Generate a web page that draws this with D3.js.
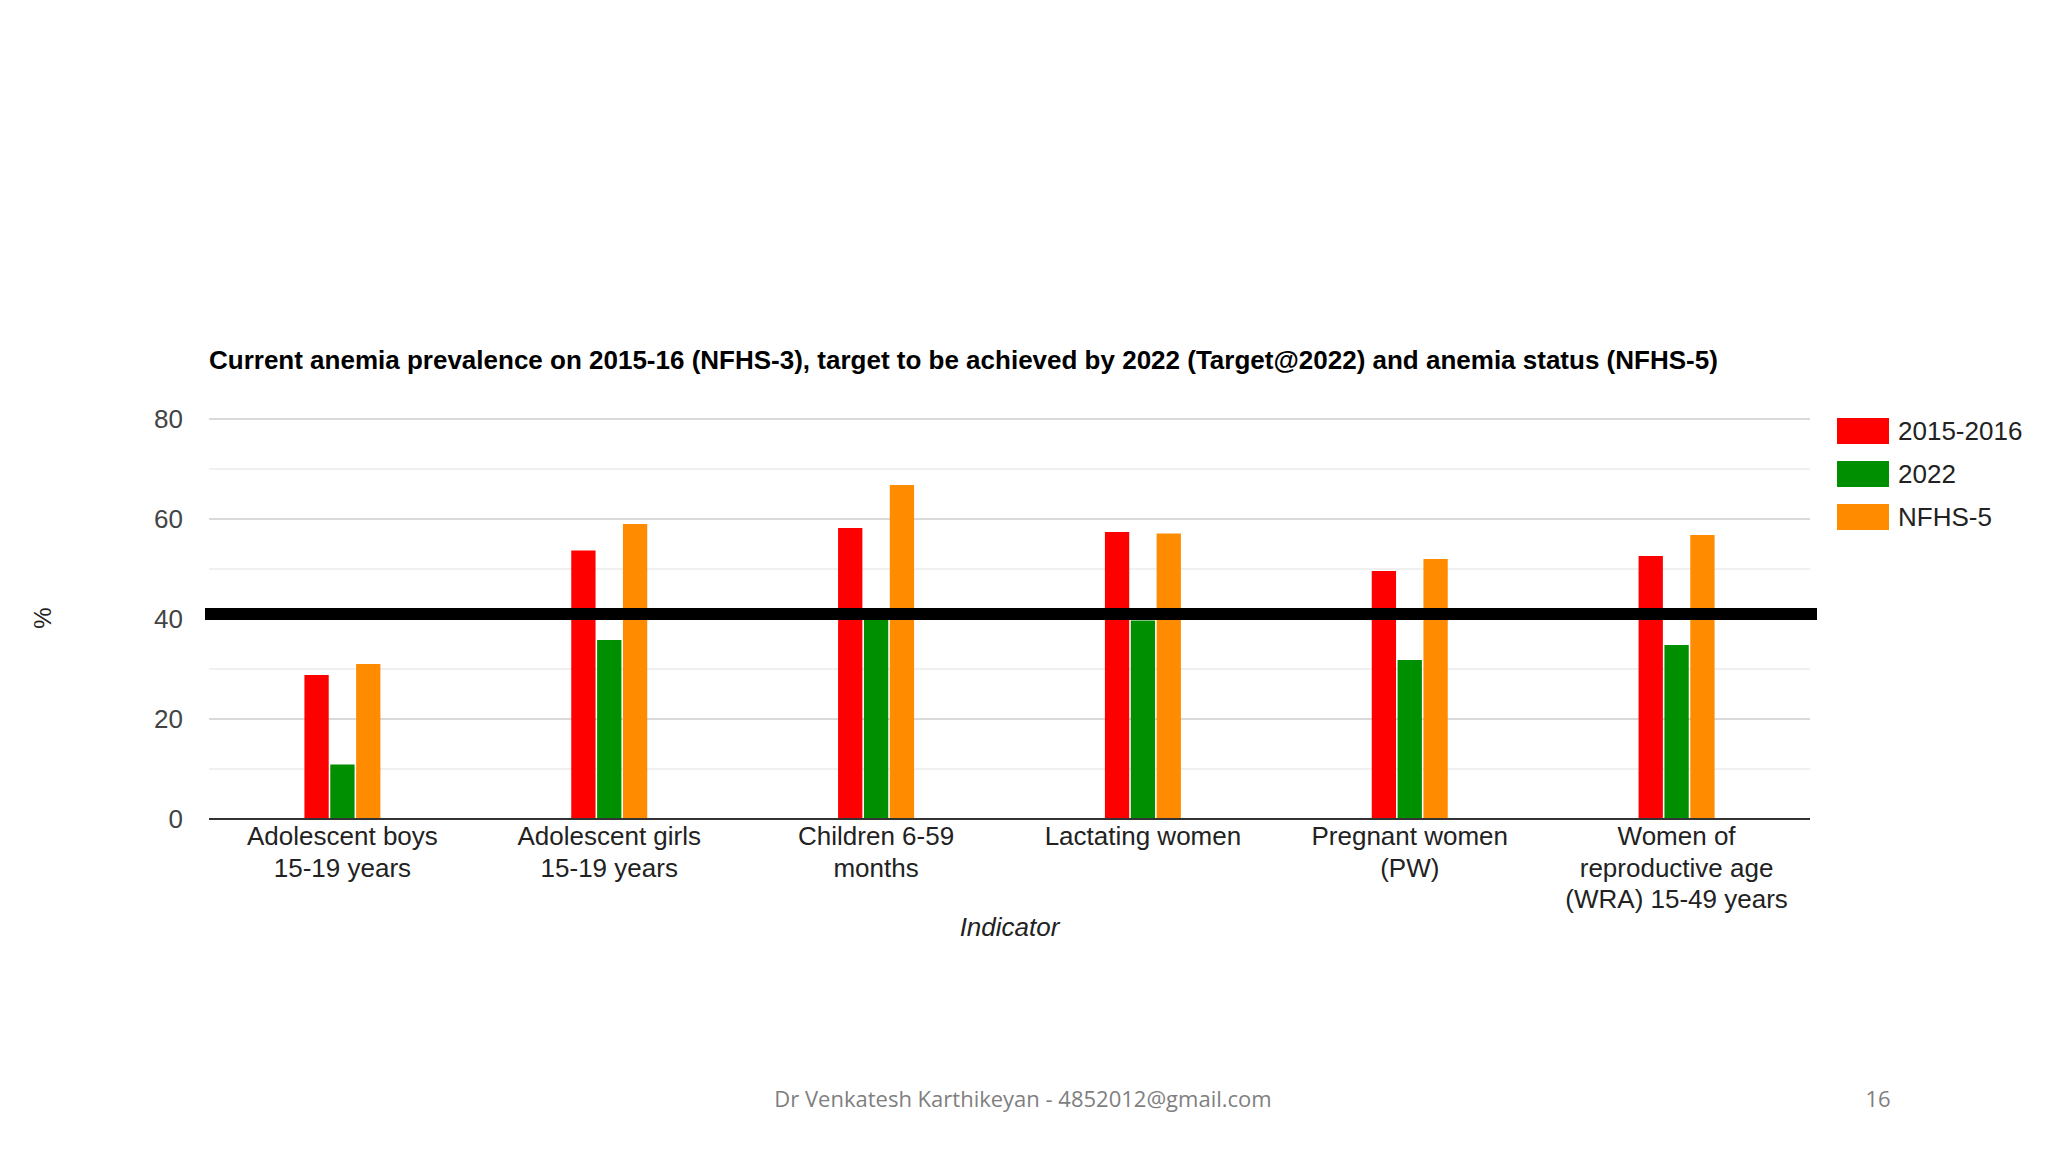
<!DOCTYPE html>
<html>
<head>
<meta charset="utf-8">
<script src="https://cdn.jsdelivr.net/npm/d3@7"></script>
<style>
  body { margin: 0; background: #fff; }
  svg { display: block; }
</style>
</head>
<body>
<svg id="chart"></svg>
<script>
// chart data
var categories = [
  ["Adolescent boys", "15-19 years"],
  ["Adolescent girls", "15-19 years"],
  ["Children 6-59", "months"],
  ["Lactating women"],
  ["Pregnant women", "(PW)"],
  ["Women of", "reproductive age", "(WRA) 15-49 years"]
];
var seriesNames = ["2015-2016", "2022", "NFHS-5"];
var values2016 = [28.8, 53.7, 58.2, 57.4, 49.6, 52.6];
var values2022 = [10.9, 35.8, 40.0, 39.7, 31.8, 34.8];
var valuesNfhs5 = [31.0, 59.0, 66.8, 57.1, 52.0, 56.8];
var yTicks = [0, 20, 40, 60, 80];
var minorTicks = [10, 30, 50, 70];
var targetLine = 41;

var colors = ["#ff0000", "#008f00", "#ff8c00"];

var width = 2048, height = 1152;
var plotLeft = 209, plotRight = 1810, plotTop = 419, plotBottom = 819;

var svg = d3.select("#chart")
  .attr("width", width)
  .attr("height", height)
  .style("font-family", "'Liberation Sans', Arial, sans-serif");

var x0 = d3.scaleBand()
  .domain(d3.range(categories.length))
  .range([plotLeft, plotRight]);

var bw = x0.bandwidth();
var x1 = d3.scaleBand()
  .domain(d3.range(seriesNames.length))
  .range([bw/2 - 38, bw/2 + 38])
  .paddingInner(0.06);

var y = d3.scaleLinear()
  .domain([0, 80])
  .range([plotBottom, plotTop]);

// title
svg.append("text")
  .attr("x", plotLeft)
  .attr("y", 369)
  .attr("font-size", 26)
  .attr("font-weight", "bold")
  .attr("fill", "#000")
  .text("Current anemia prevalence on 2015-16 (NFHS-3), target to be achieved by 2022 (Target@2022) and anemia status (NFHS-5)");

// gridlines
svg.append("g").selectAll("line")
  .data(minorTicks)
  .enter().append("line")
    .attr("x1", plotLeft).attr("x2", plotRight)
    .attr("y1", d => y(d)).attr("y2", d => y(d))
    .attr("stroke", "#ebebeb").attr("stroke-width", 1.5);

svg.append("g").selectAll("line")
  .data(yTicks.slice(1))
  .enter().append("line")
    .attr("x1", plotLeft).attr("x2", plotRight)
    .attr("y1", d => y(d)).attr("y2", d => y(d))
    .attr("stroke", "#cccccc").attr("stroke-width", 1.5);

// y tick labels
svg.append("g").selectAll("text")
  .data(yTicks)
  .enter().append("text")
    .attr("x", 183)
    .attr("y", d => y(d) + 9)
    .attr("text-anchor", "end")
    .attr("font-size", 26)
    .attr("fill", "#444")
    .text(d => d);

// bars
var allSeries = [values2016, values2022, valuesNfhs5];
var groups = svg.append("g").selectAll("g")
  .data(categories)
  .enter().append("g")
    .attr("transform", (d, i) => "translate(" + x0(i) + ",0)");

groups.selectAll("rect")
  .data((d, i) => allSeries.map((s, j) => ({ s: j, v: s[i] })))
  .enter().append("rect")
    .attr("x", d => x1(d.s))
    .attr("width", x1.bandwidth())
    .attr("y", d => y(d.v))
    .attr("height", d => y(0) - y(d.v))
    .attr("fill", d => colors[d.s]);

// baseline
svg.append("line")
  .attr("x1", plotLeft).attr("x2", plotRight)
  .attr("y1", y(0)).attr("y2", y(0))
  .attr("stroke", "#333").attr("stroke-width", 2);

// target line
svg.append("line")
  .attr("x1", plotLeft - 4).attr("x2", plotRight + 7)
  .attr("y1", y(targetLine)).attr("y2", y(targetLine))
  .attr("stroke", "#000").attr("stroke-width", 12);

// x labels
groups.each(function(d, i) {
  var t = d3.select(this).append("text")
    .attr("text-anchor", "middle")
    .attr("font-size", 26)
    .attr("fill", "#222");
  d.forEach(function(line, k) {
    t.append("tspan")
      .attr("x", bw/2)
      .attr("y", 845 + k*31.5)
      .text(line);
  });
});

// axis titles
svg.append("text")
  .attr("x", (plotLeft + plotRight)/2)
  .attr("y", 936)
  .attr("text-anchor", "middle")
  .attr("font-size", 26)
  .attr("font-style", "italic")
  .attr("fill", "#222")
  .text("Indicator");

svg.append("text")
  .attr("transform", "translate(51,618) rotate(-90)")
  .attr("text-anchor", "middle")
  .attr("font-size", 24)
  .attr("fill", "#222")
  .text("%");

// legend
var legend = svg.append("g").selectAll("g")
  .data(seriesNames)
  .enter().append("g")
    .attr("transform", (d, i) => "translate(1837," + (418 + i*43) + ")");

legend.append("rect")
  .attr("width", 52).attr("height", 26)
  .attr("fill", (d, i) => colors[i]);

legend.append("text")
  .attr("x", 61)
  .attr("y", 22)
  .attr("font-size", 26)
  .attr("fill", "#222")
  .text(d => d);

// footer
svg.append("text")
  .attr("x", 1023)
  .attr("y", 1107)
  .attr("text-anchor", "middle")
  .attr("font-family", "'Open Sans', 'Noto Sans', sans-serif")
  .attr("font-size", 22)
  .attr("fill", "#7f7f7f")
  .text("Dr Venkatesh Karthikeyan - 4852012@gmail.com");

svg.append("text")
  .attr("x", 1878)
  .attr("y", 1107)
  .attr("text-anchor", "middle")
  .attr("font-family", "'Open Sans', 'Noto Sans', sans-serif")
  .attr("font-size", 22)
  .attr("fill", "#7f7f7f")
  .text("16");
</script>
</body>
</html>
